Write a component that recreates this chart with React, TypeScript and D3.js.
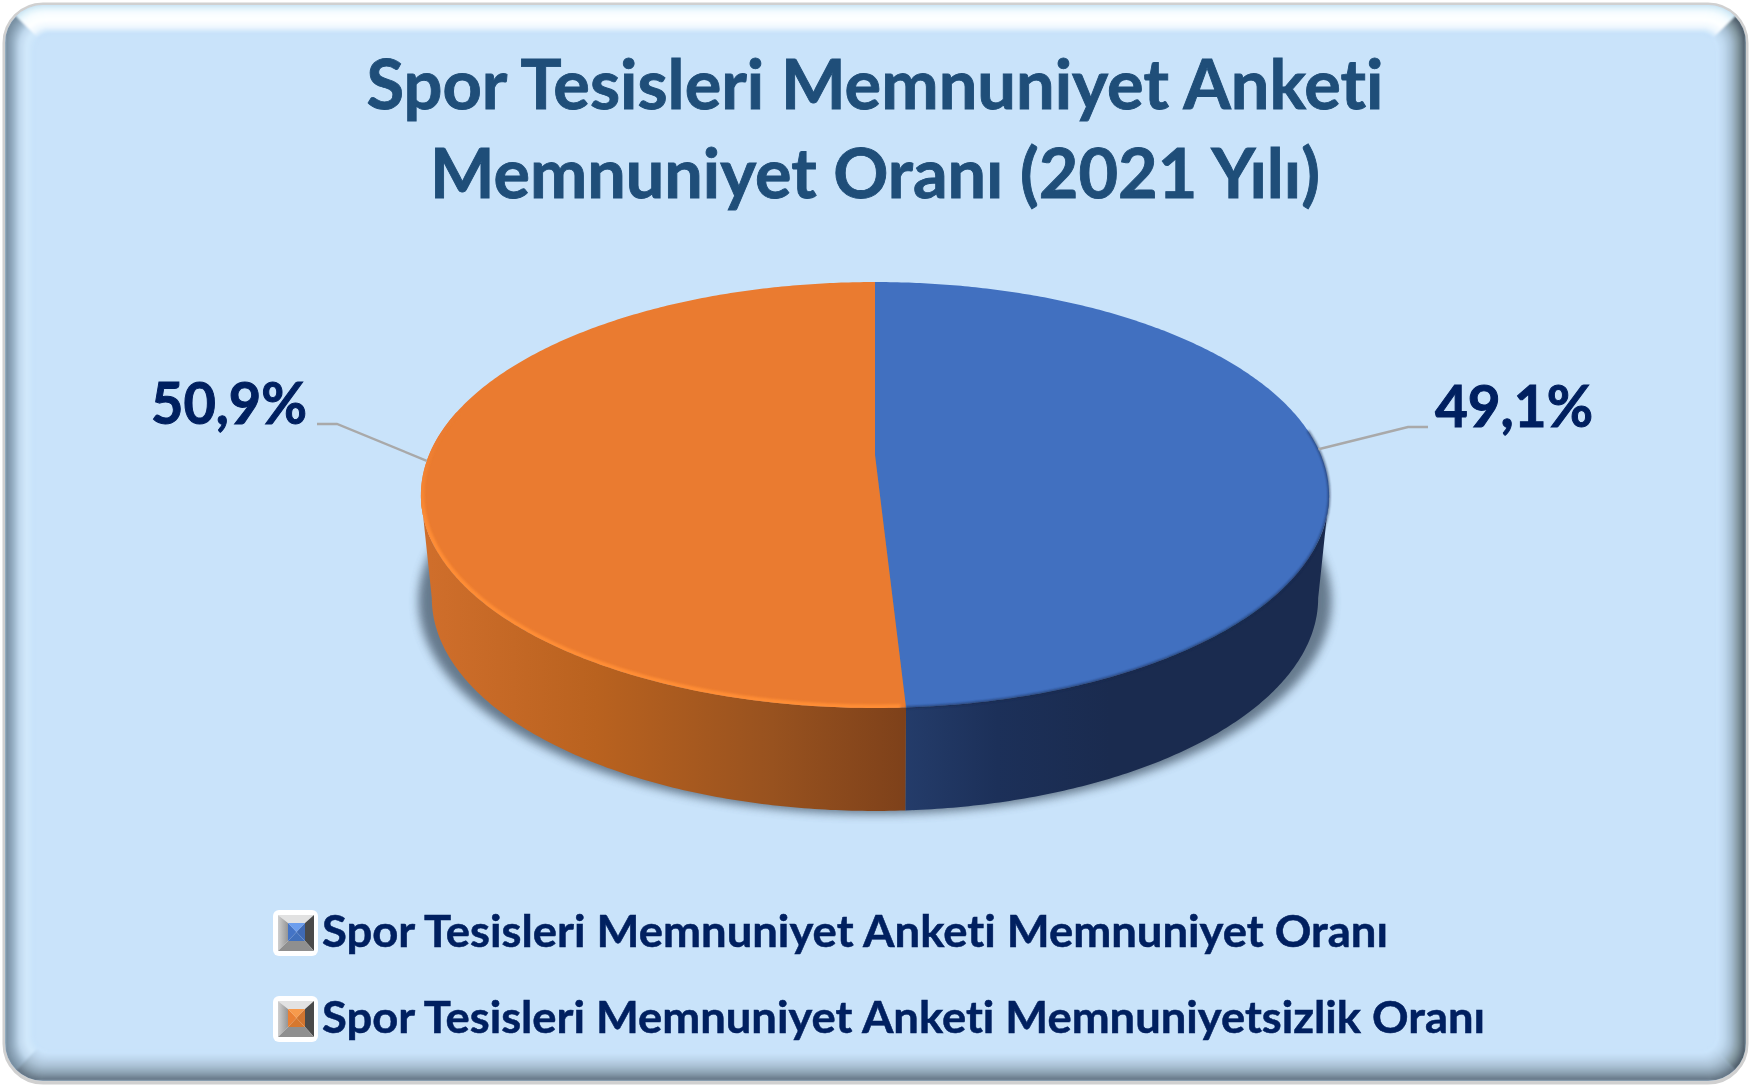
import React from 'react';
import * as d3 from 'd3';

const titleLines = ['Spor Tesisleri Memnuniyet Anketi', 'Memnuniyet Oranı (2021 Yılı)'];
const legendLabels = ['Spor Tesisleri Memnuniyet Anketi Memnuniyet Oranı', 'Spor Tesisleri Memnuniyet Anketi Memnuniyetsizlik Oranı'];
const values = [49.1, 50.9];
const topColors = ['#4170c0', '#ea7b30'];
const keyShades = [
  ['#6c9eee', '#4474c6', '#3f6ab5', '#4170bc'],
  ['#f79a4c', '#e98034', '#d2752f', '#d6782f'],
];

const W = 1749;
const H = 1085;
const font = 'Lato, Carlito, "Open Sans", sans-serif';

// pie seen in perspective: the centre of the circle sits above the centre of the ellipse
const cx = 875;
const persp = { A: -120, B: 455, C: 0.1878, D: 446 };
const depth = 103;
const taper = 0.976;

const rim = (a: number, level = 0): [number, number] => {
  const u = Math.sin(a);
  const v = Math.cos(a);
  const w = persp.C * v + 1;
  const x = (persp.D * u) / w;
  const y = (persp.A * v + persp.B) / w;
  return level ? [cx + x * taper, y + depth] : [cx + x, y];
};

const line = d3.line();
const sweep = (a0: number, a1: number, level = 0) => {
  const n = Math.ceil(Math.abs(a1 - a0) / 0.01);
  return d3.range(n + 1).map((i) => rim(a0 + ((a1 - a0) * i) / n, level));
};

const pie = d3.pie<number>().sort(null).value((d) => d);
const arcs = pie(values);
const centre: [number, number] = [cx, persp.B];
// angle at which the ellipse is widest, the side wall is visible below it
const wideA = Math.acos(-persp.C);
const splitA = arcs[0].endAngle;

const fmt = (v: number) => `${v.toFixed(1).replace('.', ',')}%`;

const labelSpec = [
  { x: 1435, y: 427, w: 158, elbow: 1408, end: 1428 },
  { x: 151, y: 424, w: 156, elbow: 337, end: 317 },
];
const legendY = [947, 1033];
const legendW = [1066, 1163];

// panel bevel, distance from the outer edge to colour, per side
const bevelDepth = [0, 3, 8, 15, 22, 28];
const bevelLeft = ['#74899b', '#7d95a8', '#94adc2', '#c0d9ee', '#d2e9fc', '#c9e3fa'];
const bevelRight = ['#47555f', '#5b6b78', '#82969f', '#a6bed2', '#bed8ee', '#c9e3fa'];
const bevelTop = ['#c9e2f0', '#dff1fa', '#f7fdff', '#ffffff', '#f0f8fe', '#c9e3fa'];
const bevelBottom = ['#5f7080', '#6d7e8e', '#8a9fb0', '#a9c0d4', '#bdd6ec', '#c9e3fa'];

const Key = ({ y, shades }: { y: number; shades: string[] }) => {
  const x0 = 278, x1 = 314, y0 = y + 5, y1 = y + 41;
  const a0 = 288, a1 = 305, b0 = y + 13, b1 = y + 31;
  const mx = (a0 + a1) / 2, my = (b0 + b1) / 2;
  return (
    <g>
      <rect x={273} y={y} width={45} height={46} rx={6} fill="#ffffff" />
      <polygon points={`${x0},${y0} ${x1},${y0} ${a1},${b0} ${a0},${b0}`} fill="#e2e2e2" />
      <polygon points={`${x0},${y0} ${a0},${b0} ${a0},${b1} ${x0},${y1}`} fill="url(#keyLeft)" />
      <polygon points={`${x1},${y0} ${a1},${b0} ${a1},${b1} ${x1},${y1}`} fill="#4a4a4a" />
      <polygon points={`${x0},${y1} ${a0},${b1} ${a1},${b1} ${x1},${y1}`} fill="#8f8f8f" />
      <polygon points={`${a0},${b0} ${a1},${b0} ${mx},${my}`} fill={shades[0]} />
      <polygon points={`${a0},${b0} ${mx},${my} ${a0},${b1}`} fill={shades[1]} />
      <polygon points={`${a1},${b0} ${mx},${my} ${a1},${b1}`} fill={shades[2]} />
      <polygon points={`${a0},${b1} ${mx},${my} ${a1},${b1}`} fill={shades[3]} />
    </g>
  );
};

const Grad = ({ id, x1, y1, x2, y2, stops }: { id: string; x1: number; y1: number; x2: number; y2: number; stops: [number, string][] }) => (
  <linearGradient id={id} gradientUnits="userSpaceOnUse" x1={x1} y1={y1} x2={x2} y2={y2}>
    {stops.map(([o, c]) => <stop key={o} offset={o} stopColor={c} />)}
  </linearGradient>
);

export default function App() {
  const L = 5, T = 5, R = 1746, B = 1081, F = 30;
  const mid = 60;
  const sectors: { id: string; pts: string; colors: string[] }[] = [
    { id: 'secL', pts: `${L},${T} ${L + mid},${T + mid} ${L + mid},${B - mid} ${L},${B}`, colors: bevelLeft },
    { id: 'secR', pts: `${R},${T} ${R - mid},${T + mid} ${R - mid},${B - mid} ${R},${B}`, colors: bevelRight },
    { id: 'secT', pts: `${L},${T} ${R},${T} ${R - mid},${T + mid} ${L + mid},${T + mid}`, colors: bevelTop },
    { id: 'secB', pts: `${L},${B} ${R},${B} ${R - mid},${B - mid} ${L + mid},${B - mid}`, colors: bevelBottom },
  ];
  const rings = d3.range(0, F, 1.5);
  const shadowPts = d3.range(0, 2 * Math.PI, 0.02).map((a) => {
    const [x, y] = rim(a, 1);
    return [cx + (x - cx) * 1.03, y + 3] as [number, number];
  });
  return (
    <svg width={W} height={H} viewBox={`0 0 ${W} ${H}`} style={{ position: 'absolute', left: 0, top: 0, fontVariantLigatures: 'none' }}>
      <defs>
        <Grad id="keyLeft" x1={278} y1={0} x2={288} y2={0} stops={[[0, '#cfcfcf'], [1, '#959595']]} />
        <Grad id="sideBlue" x1={905} y1={0} x2={1110} y2={0} stops={[[0, '#243c6a'], [0.45, '#1c3059'], [1, '#1a2b4f']]} />
        <Grad id="sideOrange" x1={430} y1={0} x2={905} y2={0} stops={[[0, '#cf6e2b'], [0.35, '#b9621f'], [0.72, '#98521f'], [1, '#7e411a']]} />
        <Grad id="rimOrange" x1={0} y1={430} x2={0} y2={540} stops={[[0, '#ea7b30'], [1, '#ff8d35']]} />
        <filter id="ring" x="-2%" y="-2%" width="104%" height="104%"><feGaussianBlur stdDeviation="1.2" /></filter>
        <filter id="shadow" x="-10%" y="-10%" width="120%" height="120%"><feGaussianBlur stdDeviation="5" /></filter>
        <filter id="edge" x="-5%" y="-5%" width="110%" height="110%"><feGaussianBlur stdDeviation="1" /></filter>
        <clipPath id="panel"><rect x={L} y={T} width={R - L} height={B - T} rx={38} /></clipPath>
        <clipPath id="topFace"><path d={line(sweep(0, 2 * Math.PI))! + 'Z'} /></clipPath>
        {sectors.map((s) => <clipPath id={s.id} key={s.id}><polygon points={s.pts} /></clipPath>)}
      </defs>

      {/* panel with bevel */}
      <rect x={L - 1} y={T - 1} width={R - L + 2} height={B - T + 3} rx={39} fill="#d4d4d4" stroke="#d0d0d0" strokeWidth={3} />
      <g clipPath="url(#panel)">
        <rect x={L} y={T} width={R - L} height={B - T} fill="#c9e3fa" />
        <g filter="url(#ring)">
          {sectors.map((s) => {
            const color = d3.scaleLinear<string>().domain(bevelDepth).range(s.colors);
            return (
              <g key={s.id} clipPath={`url(#${s.id})`}>
                {rings.map((t) => (
                  <rect key={t} x={L + t} y={T + t} width={R - L - 2 * t} height={B - T - 2 * t} rx={38 - t * 0.75}
                    fill="none" stroke={color(t)} strokeWidth={2.2} />
                ))}
              </g>
            );
          })}
        </g>
      </g>

      {/* title */}
      {titleLines.map((t, i) => (
        <text key={t} x={875} y={i ? 198 : 109} textAnchor="middle" fontFamily={font} fontWeight={700} fontSize={69}
          fill="#1f4e79" stroke="#1f4e79" strokeWidth={0.9} textLength={i ? 890 : 1017} lengthAdjust="spacingAndGlyphs">{t}</text>
      ))}

      {/* pie */}
      <path d={line(shadowPts)! + 'Z'} fill="#55687a" opacity={0.85} filter="url(#shadow)" />
      <path d={line([...sweep(wideA, splitA), ...sweep(splitA, wideA, 1)])! + 'Z'} fill="url(#sideBlue)" />
      <path d={line([...sweep(splitA, 2 * Math.PI - wideA), ...sweep(2 * Math.PI - wideA, splitA, 1)])! + 'Z'} fill="url(#sideOrange)" />
      {arcs.map((d, i) => (
        <path key={i} d={line([centre, ...sweep(d.startAngle, d.endAngle)])! + 'Z'} fill={topColors[i]} />
      ))}
      <path d={line(sweep(1.45, splitA))!} fill="none" stroke="#1a2b4f" strokeWidth={2} opacity={0.7} filter="url(#edge)" />
      <g clipPath="url(#topFace)">
        <path d={line(sweep(splitA + 0.01, 2 * Math.PI - 1.35))!} fill="none" stroke="url(#rimOrange)" strokeWidth={7} filter="url(#edge)" />
      </g>

      {/* data labels and leader lines */}
      {arcs.map((d, i) => {
        const s = labelSpec[i];
        const [ax, ay] = rim((d.startAngle + d.endAngle) / 2);
        return (
          <g key={i}>
            <path d={line([[ax, ay], [s.elbow, s.y], [s.end, s.y]])!} fill="none" stroke="#a9a9a9" strokeWidth={2.4} />
            <text x={s.x} y={s.y} fontFamily={font} fontWeight={700} fontSize={58} fill="#002060" stroke="#002060" strokeWidth={1}
              textLength={s.w} lengthAdjust="spacingAndGlyphs">{fmt(values[i])}</text>
          </g>
        );
      })}

      {/* legend */}
      {legendLabels.map((t, i) => (
        <g key={t}>
          <Key y={legendY[i] - 37} shades={keyShades[i]} />
          <text x={322} y={legendY[i]} fontFamily={font} fontWeight={700} fontSize={43} fill="#002060" stroke="#002060" strokeWidth={0.5}
            textLength={legendW[i]} lengthAdjust="spacingAndGlyphs">{t}</text>
        </g>
      ))}
    </svg>
  );
}
